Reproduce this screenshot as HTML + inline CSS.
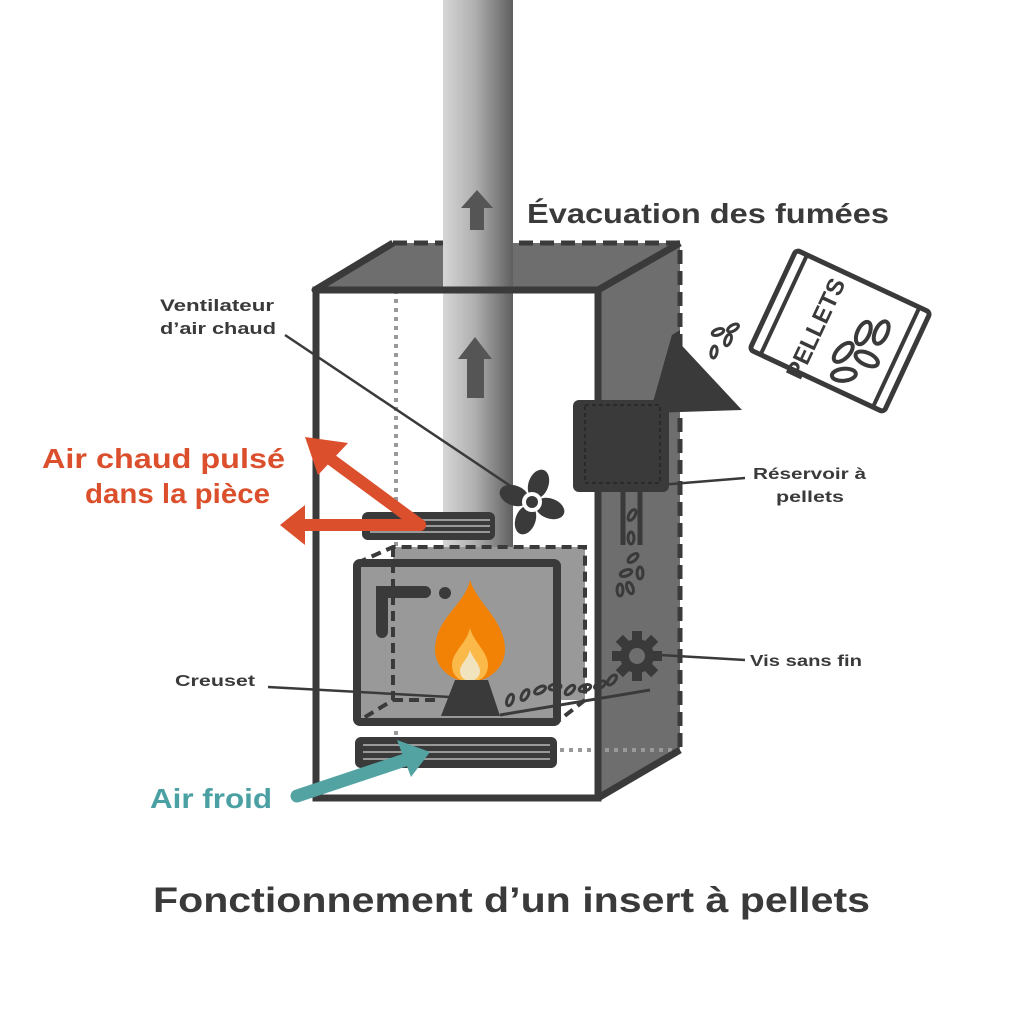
<!DOCTYPE html>
<html><head><meta charset="utf-8"><style>
html,body{margin:0;padding:0;background:#fff}
svg{display:block}
text{font-family:"Liberation Sans",sans-serif;font-weight:bold}
</style></head><body>
<svg width="1024" height="1024" viewBox="0 0 1024 1024" xmlns="http://www.w3.org/2000/svg">
<defs>
<linearGradient id="ch" x1="0" x2="1" y1="0" y2="0">
<stop offset="0" stop-color="#d6d6d6"/><stop offset="0.45" stop-color="#b0b0b0"/><stop offset="1" stop-color="#5f5f5f"/>
</linearGradient>
</defs>
<polygon points="315,290 393,243 680,243 598,290" fill="#6e6e6e"/>
<polygon points="598,290 680,243 680,750 598,798" fill="#6e6e6e"/>
<polyline points="393,243 680,243 680,750" fill="none" stroke="#3a3a3a" stroke-width="5" stroke-dasharray="14,7"/>
<line x1="396" y1="290" x2="396" y2="760" stroke="#999" stroke-width="4" stroke-dasharray="4,5"/>
<line x1="560" y1="750" x2="680" y2="750" stroke="#999" stroke-width="4" stroke-dasharray="4,5"/>
<rect x="443" y="0" width="70" height="556" fill="url(#ch)"/>
<polygon points="477,190 493,208 484,208 484,230 470,230 470,208 461,208" fill="#555"/>
<polygon points="475,337 492,359 484,359 484,398 467,398 467,359 458,359" fill="#555"/>
<polyline points="393,243 315,290 598,290 680,243" fill="none" stroke="#3a3a3a" stroke-width="7" stroke-linejoin="round"/>
<rect x="316" y="290" width="282" height="508" fill="none" stroke="#3a3a3a" stroke-width="7"/>
<line x1="598" y1="798" x2="680" y2="750" stroke="#3a3a3a" stroke-width="7"/>
<polygon points="672,335 742,410 650,413" fill="#3a3a3a"/>
<polygon points="672,335 650,413 680,395 680,330" fill="#3a3a3a"/>
<rect x="573" y="400" width="96" height="92" rx="6" fill="#3a3a3a"/>
<rect x="585" y="405" width="75" height="78" fill="none" stroke="#2a2a2a" stroke-width="2" stroke-dasharray="4,3"/>
<line x1="623" y1="490" x2="623" y2="545" stroke="#3a3a3a" stroke-width="5"/>
<line x1="640" y1="490" x2="640" y2="545" stroke="#3a3a3a" stroke-width="5"/>
<g fill="none" stroke="#3a3a3a" stroke-width="3">
<ellipse cx="632" cy="515" rx="3" ry="6" transform="rotate(30 632 515)"/>
<ellipse cx="631" cy="538" rx="3" ry="6"/>
<ellipse cx="633" cy="558" rx="3" ry="6" transform="rotate(50 633 558)"/>
<ellipse cx="626" cy="573" rx="3" ry="6" transform="rotate(70 626 573)"/>
<ellipse cx="640" cy="573" rx="3" ry="6"/>
<ellipse cx="620" cy="590" rx="3" ry="6"/>
<ellipse cx="630" cy="588" rx="3" ry="6" transform="rotate(-20 630 588)"/>
<ellipse cx="718" cy="332" rx="3" ry="6" transform="rotate(70 718 332)"/>
<ellipse cx="728" cy="340" rx="3" ry="6" transform="rotate(20 728 340)"/>
<ellipse cx="714" cy="352" rx="3" ry="6" transform="rotate(10 714 352)"/>
<ellipse cx="733" cy="328" rx="3" ry="6" transform="rotate(60 733 328)"/>
</g>
<g transform="translate(637,656)" fill="#3a3a3a">
<circle r="17"/>
<rect x="-5" y="-25" width="10" height="50"/><rect x="-25" y="-5" width="50" height="10"/>
<rect x="-5" y="-25" width="10" height="50" transform="rotate(45)"/><rect x="-5" y="-25" width="10" height="50" transform="rotate(-45)"/>
<circle r="8" fill="#6e6e6e"/>
</g>
<polygon points="393,547 585,547 585,700 393,700" fill="#999"/>
<polyline points="357,563 393,547 585,547 585,700 557,722" fill="none" stroke="#3a3a3a" stroke-width="4" stroke-dasharray="10,6"/>
<rect x="357" y="563" width="200" height="159" rx="3" fill="#999" stroke="#3a3a3a" stroke-width="8"/>
<polyline points="393,547 393,700 357,722" fill="none" stroke="#3a3a3a" stroke-width="4" stroke-dasharray="10,6"/>
<line x1="393" y1="700" x2="440" y2="700" stroke="#3a3a3a" stroke-width="4" stroke-dasharray="10,6"/>
<path d="M425,592 H382 V632" fill="none" stroke="#3a3a3a" stroke-width="12" stroke-linecap="round"/>
<circle cx="445" cy="593" r="6" fill="#3a3a3a"/>
<g fill="none" stroke="#3a3a3a" stroke-width="3">
<ellipse cx="612" cy="680" rx="3" ry="6" transform="rotate(40 612 680)"/>
<ellipse cx="600" cy="685" rx="3" ry="6" transform="rotate(60 600 685)"/>
<ellipse cx="585" cy="688" rx="3" ry="6" transform="rotate(70 585 688)"/>
<ellipse cx="570" cy="690" rx="3" ry="6" transform="rotate(45 570 690)"/>
<ellipse cx="555" cy="687" rx="3" ry="6" transform="rotate(80 555 687)"/>
<ellipse cx="540" cy="690" rx="3" ry="6" transform="rotate(60 540 690)"/>
<ellipse cx="525" cy="695" rx="3" ry="6" transform="rotate(30 525 695)"/>
<ellipse cx="510" cy="700" rx="3" ry="6" transform="rotate(20 510 700)"/>
</g>
<path d="M470,580 C478,605 505,620 505,650 C505,668 488,682 470,682 C452,682 435,668 435,650 C435,618 465,605 470,580 Z" fill="#f28205"/>
<path d="M470,628 C474,643 488,652 488,665 C488,676 480,682 470,682 C460,682 452,676 452,665 C452,652 467,643 470,628 Z" fill="#fbb94a"/>
<path d="M470,650 C473,659 480,664 480,671 C480,677 475,681 470,681 C465,681 460,677 460,671 C460,664 468,659 470,650 Z" fill="#f0e3bd"/>
<polygon points="455,680 488,680 500,716 441,716" fill="#3a3a3a"/>
<line x1="268" y1="687" x2="450" y2="697" stroke="#3a3a3a" stroke-width="2.5"/>
<line x1="500" y1="715" x2="650" y2="690" stroke="#3a3a3a" stroke-width="3"/>
<line x1="285" y1="335" x2="512" y2="487" stroke="#3a3a3a" stroke-width="2.5"/>
<line x1="622" y1="488" x2="745" y2="478" stroke="#3a3a3a" stroke-width="2.5"/>
<line x1="660" y1="655" x2="745" y2="660" stroke="#3a3a3a" stroke-width="2.5"/>
<g transform="translate(532,502)" fill="#3a3a3a">
<ellipse cx="0" cy="-19" rx="10" ry="15" transform="rotate(20)"/>
<ellipse cx="0" cy="-19" rx="10" ry="15" transform="rotate(110)"/>
<ellipse cx="0" cy="-19" rx="10" ry="15" transform="rotate(200)"/>
<ellipse cx="0" cy="-19" rx="10" ry="15" transform="rotate(290)"/>
<circle r="10" fill="#fff"/><circle r="6"/>
</g>
<rect x="362" y="512" width="133" height="28" rx="6" fill="#3a3a3a"/>
<g stroke="#999" stroke-width="2"><line x1="370" y1="520" x2="490" y2="520"/><line x1="370" y1="526" x2="490" y2="526"/><line x1="370" y1="532" x2="490" y2="532"/></g>
<rect x="355" y="737" width="202" height="31" rx="6" fill="#3a3a3a"/>
<g stroke="#999" stroke-width="2"><line x1="363" y1="745" x2="550" y2="745"/><line x1="363" y1="752" x2="550" y2="752"/><line x1="363" y1="759" x2="550" y2="759"/></g>
<g stroke="#db4f2c" stroke-width="12" stroke-linecap="round">
<line x1="420" y1="525" x2="325" y2="455"/>
<line x1="420" y1="525" x2="300" y2="525"/>
</g>
<polygon points="305,437 348,443 318,475" fill="#db4f2c"/>
<polygon points="280,525 305,505 305,545" fill="#db4f2c"/>
<line x1="297" y1="796" x2="405" y2="760" stroke="#53a3a3" stroke-width="13" stroke-linecap="round"/>
<polygon points="397,740 430,752 411,777" fill="#53a3a3"/>
<g transform="translate(840,331) rotate(25)">
<rect x="-74" y="-55" width="148" height="110" rx="4" fill="#fff" stroke="#3a3a3a" stroke-width="5"/>
<line x1="-62" y1="-55" x2="-62" y2="55" stroke="#3a3a3a" stroke-width="4"/>
<line x1="62" y1="-55" x2="62" y2="55" stroke="#3a3a3a" stroke-width="4"/>
<text x="0" y="0" transform="translate(-15,8) rotate(-90)" text-anchor="middle" font-size="24" fill="#3a3a3a">PELLETS</text>
<g fill="none" stroke="#3a3a3a" stroke-width="4">
<ellipse cx="22" cy="-8" rx="6" ry="12"/><ellipse cx="38" cy="-16" rx="6" ry="12"/>
<ellipse cx="12" cy="18" rx="6" ry="12" transform="rotate(20 12 18)"/>
<ellipse cx="36" cy="14" rx="12" ry="6"/><ellipse cx="22" cy="38" rx="12" ry="6" transform="rotate(-30 22 38)"/>
</g>
</g>
<text x="527" y="223" font-size="28" fill="#3a3a3a" textLength="362" lengthAdjust="spacingAndGlyphs">Évacuation des fumées</text>
<text x="160" y="311" font-size="17" fill="#3a3a3a" textLength="114" lengthAdjust="spacingAndGlyphs">Ventilateur</text>
<text x="160" y="334" font-size="17" fill="#3a3a3a" textLength="116" lengthAdjust="spacingAndGlyphs">d’air chaud</text>
<text x="42" y="468" font-size="28" fill="#db4f2c" textLength="243" lengthAdjust="spacingAndGlyphs">Air chaud pulsé</text>
<text x="85" y="503" font-size="28" fill="#db4f2c" textLength="185" lengthAdjust="spacingAndGlyphs">dans la pièce</text>
<text x="753" y="479" font-size="16" fill="#3a3a3a" textLength="113" lengthAdjust="spacingAndGlyphs">Réservoir à</text>
<text x="776" y="502" font-size="16" fill="#3a3a3a" textLength="68" lengthAdjust="spacingAndGlyphs">pellets</text>
<text x="750" y="666" font-size="16" fill="#3a3a3a" textLength="112" lengthAdjust="spacingAndGlyphs">Vis sans fin</text>
<text x="175" y="686" font-size="16" fill="#3a3a3a" textLength="80" lengthAdjust="spacingAndGlyphs">Creuset</text>
<text x="150" y="808" font-size="28" fill="#4aa0a2" textLength="122" lengthAdjust="spacingAndGlyphs">Air froid</text>
<text x="153" y="912" font-size="35" fill="#3a3a3a" textLength="717" lengthAdjust="spacingAndGlyphs">Fonctionnement d’un insert à pellets</text>
</svg>
</body></html>
